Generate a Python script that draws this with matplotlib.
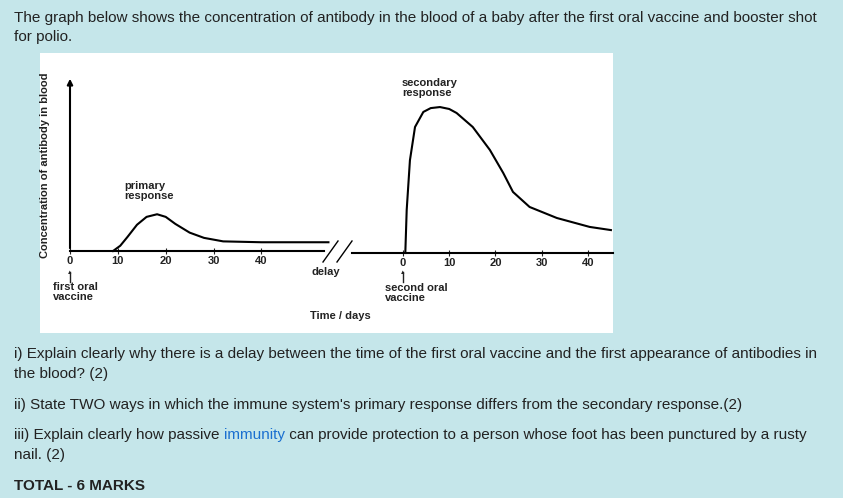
import numpy as np
import matplotlib.pyplot as plt
from matplotlib.patches import Rectangle
from matplotlib.lines import Line2D

plt.rcParams['font.family'] = ['Liberation Sans', 'DejaVu Sans']

# primary response (days after first vaccine, concentration in arbitrary units)
prim_days = [0, 9, 10.5, 12, 14, 16, 18.2, 20, 22, 25, 28, 32, 40, 54]
prim_conc = [0, 0, 3, 8, 15, 19.5, 21, 19.5, 15.5, 10.5, 7.5, 5.5, 5, 5]
# secondary response (days after second vaccine)
sec_days = [0.5, 0.8, 1.5, 2.6, 4.4, 6, 8, 10, 11.6, 15.1, 18.8, 21.7, 23.8, 27.4, 33.3, 40.4, 45]
sec_conc = [0, 24.6, 53, 72, 80.6, 82.8, 83.4, 82.3, 80, 72, 58.9, 45.7, 34.9, 26.3, 20, 14.9, 13.1]
tick_days = [0, 10, 20, 30, 40]

W, H = 843, 498
fig = plt.figure(figsize=(W / 100, H / 100), dpi=100)
fig.patch.set_facecolor('#c5e6ea')

def px(x, y):
    return x / W, 1 - y / H

def txt(x, y, s, **kw):
    fig.text(*px(x, y), s, **kw)

ink = '#222222'
FS = 11
txt(14, 18, "The graph below shows the concentration of antibody in the blood of a baby after the first oral vaccine and booster shot",
    fontsize=FS, color=ink, va='center')
txt(14, 37, "for polio.", fontsize=FS, color=ink, va='center')

# white picture box
fig.patches.append(Rectangle(px(40, 333), 573 / W, 280 / H, transform=fig.transFigure,
                             facecolor='white', edgecolor='none', zorder=-5))

ax1 = fig.add_axes([70 / W, 1 - 251 / H, 268 / W, 175 / H])
ax2 = fig.add_axes([403 / W, 1 - 253 / H, 210 / W, 175 / H])
for ax in (ax1, ax2):
    ax.set_facecolor('none')
    for s in ax.spines.values():
        s.set_visible(False)
    ax.set_ylim(0, 100)
    ax.set_yticks([])
    ax.set_xticks(tick_days)
    ax.set_xticklabels([str(d) for d in tick_days], fontsize=8, fontweight='bold', color=ink)
    ax.tick_params(axis='x', direction='inout', length=5, width=0.8, pad=1, colors=ink)
ax1.set_xlim(0, 56)
ax2.set_xlim(0, 45.45)

ax1.plot([0, 53], [0, 0], color='black', lw=1.5, clip_on=False)
ax1.plot(prim_days[1:], prim_conc[1:], color='black', lw=1.5, clip_on=False)
ax1.annotate('', xy=(0, 100), xytext=(0, 0), annotation_clip=False,
             arrowprops=dict(arrowstyle='-|>', color='black', lw=1.5, mutation_scale=8))
ax2.plot([-11, 45.45], [0, 0], color='black', lw=1.5, clip_on=False)
ax2.plot(sec_days, sec_conc, color='black', lw=1.5, clip_on=False)

# break marks
for x0 in (323, 337):
    fig.add_artist(Line2D([x0 / W, (x0 + 15) / W], [1 - 262 / H, 1 - 241 / H], color='black', lw=1))

# arrows under zero
for x in (70, 403):
    fig.add_artist(Line2D([x / W, x / W], [1 - 282 / H, 1 - 272 / H], color=ink, lw=1))
    fig.text(*px(x, 272), '▲', fontsize=4, ha='center', va='center', color=ink)

lab = dict(fontsize=8, color=ink, fontweight='bold', linespacing=0.95)
txt(124, 191, "primary\nresponse", va='center', **lab)
txt(402, 88, "secondary\nresponse", va='center', **lab)
txt(53, 292, "first oral\nvaccine", va='center', **lab)
txt(385, 293, "second oral\nvaccine", va='center', **lab)
txt(311, 272, "delay", va='center', **lab)
txt(310, 316, "Time / days", va='center', **lab)
txt(45, 165, "Concentration of antibody in blood", rotation=90, ha='center', va='center', **lab)

txt(14, 354, "i) Explain clearly why there is a delay between the time of the first oral vaccine and the first appearance of antibodies in",
    fontsize=FS, color=ink, va='center')
txt(14, 374, "the blood? (2)", fontsize=FS, color=ink, va='center')
txt(14, 405, "ii) State TWO ways in which the immune system's primary response differs from the secondary response.(2)",
    fontsize=FS, color=ink, va='center')
t = fig.text(*px(14, 435), "iii) Explain clearly how passive ", fontsize=FS, color=ink, va='center')
t2 = fig.text(0, 0, "immunity", fontsize=FS, color='#1a6fd0', va='center')
t3 = fig.text(0, 0, " can provide protection to a person whose foot has been punctured by a rusty",
              fontsize=FS, color=ink, va='center')
fig.canvas.draw()
r = fig.canvas.get_renderer()
bb = t.get_window_extent(r)
t2.set_position((bb.x1 / W, t.get_position()[1]))
bb2 = t2.get_window_extent(r)
t3.set_position((bb2.x1 / W, t.get_position()[1]))
txt(14, 455, "nail. (2)", fontsize=FS, color=ink, va='center')
txt(14, 486, "TOTAL - 6 MARKS", fontsize=FS, color=ink, va='center', fontweight='bold')

fig.savefig('out.png', dpi=100, facecolor=fig.get_facecolor())
